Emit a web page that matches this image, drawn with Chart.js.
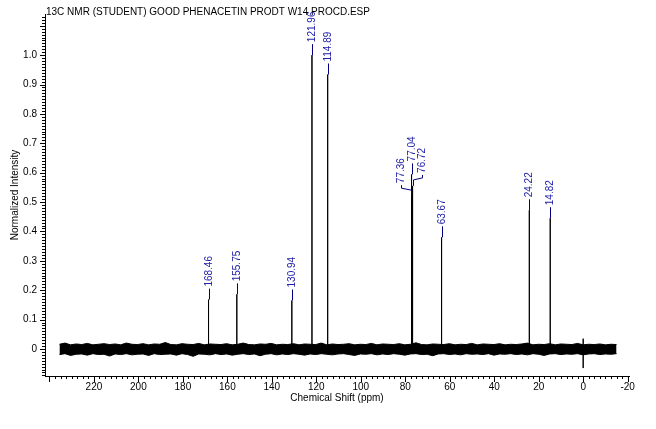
<!DOCTYPE html>
<html>
<head>
<meta charset="utf-8">
<script src="https://cdn.jsdelivr.net/npm/chart.js@4.4.1/dist/chart.umd.min.js"></script>
<style>
  html, body { margin: 0; padding: 0; background: #fff; }
  canvas { display: block; }
</style>
</head>
<body>
<canvas id="nmrChart" width="656" height="429"></canvas>
<script>
// 13C spectrum
const chartTitle = '13C NMR (STUDENT) GOOD PHENACETIN PRODT W14 PROCD.ESP';

const peakShifts  = [168.46, 155.75, 131.10, 130.94, 121.96, 114.89, 77.36, 77.04, 76.72, 63.67, 24.22, 14.82, 0];
const peakHeights = [0.168, 0.186, 0.08, 0.165, 1.0, 0.934, 0.52, 0.594, 0.555, 0.38, 0.472, 0.445, 0.035];
const peakLows    = [0, 0, 0, 0, 0, 0, 0, 0, 0, 0, 0, 0, -0.065];

const labelShifts = [168.46, 155.75, 130.94, 121.96, 114.89, 77.36, 77.04, 76.72, 63.67, 24.22, 14.82];
const labelTexts  = ['168.46', '155.75', '130.94', '121.96', '114.89', '77.36', '77.04', '76.72', '63.67', '24.22', '14.82'];

// baseline noise envelope, sampled from FIRSTX to LASTX
const NOISE_FIRSTX = 235.5;
const NOISE_LASTX = -15.0;
const noiseUpper = [
  0.016,0.02,0.014,0.017,0.015,0.019,0.014,0.016,0.018,0.015,
  0.017,0.014,0.02,0.016,0.015,0.018,0.014,0.017,0.016,0.022,
  0.015,0.014,0.018,0.016,0.015,0.019,0.014,0.017,0.016,0.015,
  0.018,0.014,0.016,0.02,0.015,0.014,0.017,0.016,0.019,0.014,
  0.016,0.015,0.018,0.014,0.017,0.016,0.015,0.02,0.014,0.017,
  0.015,0.016,0.018,0.014,0.016,0.015,0.019,0.014,0.017,0.016,
  0.015,0.018,0.014,0.016,0.021,0.015,0.014,0.017,0.016,0.015,
  0.018,0.014,0.016,0.015,0.019,0.014,0.017,0.016,0.015,0.018,
  0.014,0.016,0.015,0.017,0.02,0.014,0.016,0.015,0.018,0.014,
  0.017,0.016,0.015,0.019,0.014,0.016,0.015,0.017,0.014,0.016,
  0.015
];
const noiseLower = [
  -0.019,-0.016,-0.022,-0.018,-0.017,-0.021,-0.016,-0.019,-0.018,-0.024,
  -0.017,-0.019,-0.016,-0.02,-0.018,-0.017,-0.022,-0.016,-0.019,-0.018,
  -0.017,-0.021,-0.016,-0.019,-0.025,-0.017,-0.018,-0.02,-0.016,-0.019,
  -0.017,-0.021,-0.018,-0.016,-0.019,-0.017,-0.023,-0.018,-0.016,-0.02,
  -0.017,-0.019,-0.016,-0.018,-0.021,-0.017,-0.019,-0.016,-0.018,-0.02,
  -0.017,-0.016,-0.019,-0.022,-0.017,-0.018,-0.016,-0.02,-0.017,-0.019,
  -0.016,-0.018,-0.021,-0.017,-0.016,-0.019,-0.018,-0.023,-0.017,-0.016,
  -0.019,-0.017,-0.02,-0.016,-0.018,-0.017,-0.019,-0.016,-0.021,-0.017,
  -0.018,-0.016,-0.019,-0.017,-0.02,-0.016,-0.018,-0.022,-0.017,-0.016,
  -0.019,-0.017,-0.018,-0.016,-0.02,-0.017,-0.016,-0.019,-0.017,-0.018,
  -0.016
];

const xTickValues = [220, 200, 180, 160, 140, 120, 100, 80, 60, 40, 20, 0, -20];
const xTickLabels = ['220', '200', '180', '160', '140', '120', '100', '80', '60', '40', '20', '0', '-20'];
const yTickValues = [1.0, 0.9, 0.8, 0.7, 0.6, 0.5, 0.4, 0.3, 0.2, 0.1, 0];
const yTickLabels = ['1.0', '0.9', '0.8', '0.7', '0.6', '0.5', '0.4', '0.3', '0.2', '0.1', '0'];

const FONT = "'Liberation Sans', Arial, sans-serif";

function buildNoise(values) {
    const step = (NOISE_FIRSTX - NOISE_LASTX) / (values.length - 1);
    return values.map((v, i) => ({ x: NOISE_FIRSTX - i * step, y: v }));
}

function buildPeaks() {
    const pts = [];
    peakShifts.forEach((s, i) => {
        pts.push({ x: s, y: 0 }, { x: s, y: peakHeights[i] }, { x: s, y: peakLows[i] }, { x: s, y: 0 });
    });
    return pts;
}

// title, minor/major tick marks and peak labels
const decorPlugin = {
    id: 'decor',
    afterDraw(chart) {
        const { ctx, scales: { x, y } } = chart;
        ctx.save();

        // title
        ctx.fillStyle = '#000';
        ctx.font = '10px ' + FONT;
        ctx.textAlign = 'left';
        ctx.textBaseline = 'alphabetic';
        ctx.fillText(chartTitle, 46, 15);

        // tick marks
        ctx.strokeStyle = '#000';
        ctx.lineWidth = 1;
        ctx.beginPath();
        for (let v = -20; v <= 240; v += 2.5) {
            const px = Math.round(x.getPixelForValue(v)) + 0.5;
            const major = Math.abs(v % 20) < 1e-6;
            ctx.moveTo(px, x.top);
            ctx.lineTo(px, x.top + (major ? 6 : 3));
        }
        for (let k = -9; k <= 113; k++) {
            const v = k / 100;
            const py = Math.round(y.getPixelForValue(v)) + 0.5;
            const major = k % 10 === 0;
            ctx.moveTo(y.right, py);
            ctx.lineTo(y.right - (major ? 5 : 3), py);
        }
        ctx.stroke();

        // peak labels, fanned out where they crowd each other
        const items = labelShifts.map((s, i) => {
            const idx = peakShifts.indexOf(s);
            return {
                text: labelTexts[i],
                px: x.getPixelForValue(s),
                top: y.getPixelForValue(peakHeights[idx]),
                lx: x.getPixelForValue(s),
                bent: false
            };
        }).sort((a, b) => a.px - b.px);

        let i = 0;
        while (i < items.length) {
            let j = i;
            while (j + 1 < items.length && items[j + 1].px - items[j].px < 9) j++;
            if (j > i) {
                const n = j - i + 1;
                const mid = items.slice(i, j + 1).reduce((a, it) => a + it.px, 0) / n;
                for (let k = i; k <= j; k++) {
                    items[k].lx = mid + (k - i - (n - 1) / 2) * 10.5;
                    items[k].bent = Math.abs(items[k].lx - items[k].px) > 2;
                }
            }
            i = j + 1;
        }

        items.forEach(it => {
            const bottom = it.top - 13;
            ctx.strokeStyle = '#000080';
            ctx.beginPath();
            if (it.bent) {
                const lx = Math.round(it.lx) + 0.5;
                const px = Math.round(it.px) + 0.5;
                ctx.moveTo(lx, bottom + 2);
                ctx.lineTo(lx, bottom + 5);
                ctx.lineTo(px, bottom + 7);
                ctx.lineTo(px, it.top);
            } else {
                const px = Math.round(it.px) + 0.5;
                ctx.moveTo(px, bottom + 2);
                ctx.lineTo(px, it.top);
            }
            ctx.stroke();

            ctx.save();
            ctx.translate(Math.round(it.lx) + 0.5, bottom);
            ctx.rotate(-Math.PI / 2);
            ctx.fillStyle = '#2020a8';
            ctx.font = '10px ' + FONT;
            ctx.textAlign = 'left';
            ctx.textBaseline = 'middle';
            ctx.fillText(it.text, 0, 0);
            ctx.restore();
        });

        ctx.restore();
    }
};

const ctx = document.getElementById('nmrChart').getContext('2d');

const nmrChart = new Chart(ctx, {
    type: 'line',
    data: {
        datasets: [{
            data: buildNoise(noiseUpper),
            borderColor: '#000',
            borderWidth: 1,
            fill: false
        }, {
            data: buildNoise(noiseLower),
            borderColor: '#000',
            backgroundColor: '#000',
            borderWidth: 1,
            fill: '-1'
        }, {
            data: buildPeaks(),
            borderColor: '#000',
            borderWidth: 1,
            fill: false
        }]
    },
    options: {
        responsive: false,
        animation: false,
        devicePixelRatio: 1,
        layout: { padding: { top: 3, right: 27, left: 0, bottom: 0 } },
        elements: { point: { radius: 0 }, line: { tension: 0 } },
        plugins: {
            legend: { display: false },
            tooltip: { enabled: false },
            title: { display: false }
        },
        scales: {
            x: {
                type: 'linear',
                reverse: true,
                min: -20.6,
                max: 242,
                grid: { display: false, drawTicks: false },
                border: { display: true, color: '#000', width: 1 },
                afterBuildTicks: s => { s.ticks = xTickValues.map(v => ({ value: v })); },
                afterFit: s => { s.height = 53; },
                ticks: {
                    autoSkip: false,
                    maxRotation: 0,
                    padding: 5,
                    color: '#000',
                    font: { family: FONT, size: 10 },
                    callback: (v) => xTickLabels[xTickValues.indexOf(v)]
                },
                title: {
                    display: true,
                    text: 'Chemical Shift (ppm)',
                    color: '#000',
                    font: { family: FONT, size: 10 },
                    padding: { top: 0, bottom: 25 }
                }
            },
            y: {
                type: 'linear',
                min: -0.092,
                max: 1.14,
                grid: { display: false, drawTicks: false },
                border: { display: true, color: '#000', width: 1 },
                afterBuildTicks: s => { s.ticks = yTickValues.map(v => ({ value: v })); },
                afterFit: s => { s.width = 45; },
                ticks: {
                    autoSkip: false,
                    padding: 8,
                    color: '#000',
                    font: { family: FONT, size: 10 },
                    callback: (v) => yTickLabels[yTickValues.indexOf(v)]
                },
                title: {
                    display: true,
                    text: 'Normalized Intensity',
                    color: '#000',
                    font: { family: FONT, size: 10 },
                    padding: { top: 9, bottom: 0 }
                }
            }
        }
    },
    plugins: [decorPlugin]
});
</script>
</body>
</html>
